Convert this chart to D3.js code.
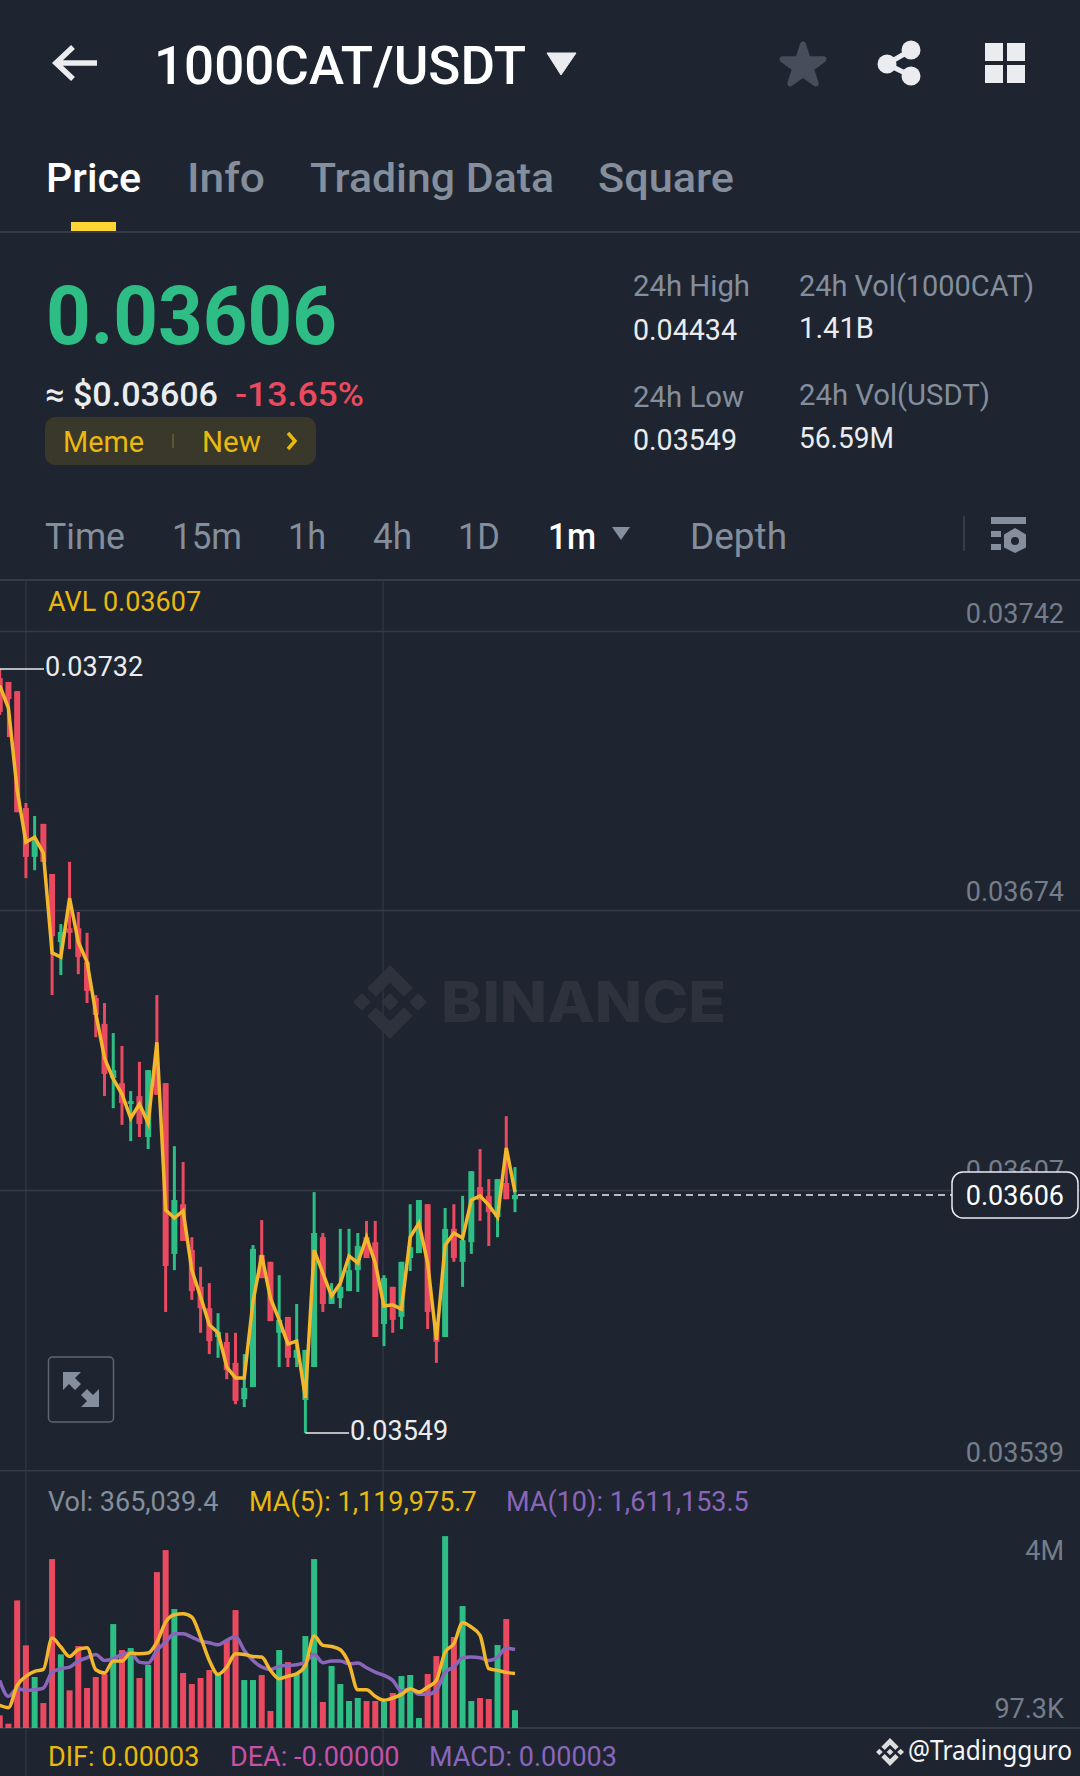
<!DOCTYPE html>
<html>
<head>
<meta charset="utf-8">
<title>1000CAT/USDT</title>
<script src="https://cdn.jsdelivr.net/npm/d3@7"></script>
<style>
  html, body { margin: 0; padding: 0; background: #1e2530; }
  svg { display: block; }
  text { font-family: Roboto, sans-serif; }
</style>
</head>
<body>
<div id="data-container"></div>
<script>
// 1-minute candles
const open = [0.037298,0.037289,0.037267,0.036987,0.036870,0.036949,0.036829,0.036666,0.036699,0.036699,0.036618,0.036532,0.036470,0.036340,0.036328,0.036278,0.036297,0.036199,0.036367,0.036328,0.035919,0.036038,0.035928,0.035840,0.035789,0.035720,0.035708,0.035658,0.035571,0.035600,0.035916,0.035900,0.035730,0.035768,0.035670,0.035569,0.035648,0.035959,0.035799,0.035813,0.035830,0.035880,0.035959,0.035947,0.035751,0.035840,0.035768,0.035909,0.035921,0.036038,0.035753,0.035720,0.035979,0.035900,0.035947,0.036079,0.036058,0.036007,0.036089,0.036050];
const high = [0.037320,0.037289,0.037267,0.036999,0.036968,0.036949,0.036829,0.036709,0.036858,0.036738,0.036688,0.036539,0.036520,0.036448,0.036417,0.036309,0.036379,0.036359,0.036539,0.036328,0.036177,0.036139,0.035959,0.035888,0.035849,0.035777,0.035730,0.035730,0.035679,0.035940,0.036000,0.035900,0.035868,0.035768,0.035799,0.035689,0.036067,0.035969,0.035849,0.035979,0.035979,0.035969,0.035998,0.035998,0.035868,0.035840,0.035900,0.036038,0.036048,0.036038,0.035753,0.036029,0.036038,0.036058,0.036117,0.036170,0.036098,0.036098,0.036249,0.036127];
const low = [0.037210,0.037157,0.036977,0.036819,0.036838,0.036858,0.036539,0.036587,0.036649,0.036589,0.036520,0.036438,0.036297,0.036268,0.036228,0.036189,0.036199,0.036170,0.036300,0.035780,0.035880,0.035950,0.035809,0.035730,0.035679,0.035670,0.035619,0.035559,0.035552,0.035600,0.035861,0.035758,0.035648,0.035648,0.035648,0.035490,0.035648,0.035780,0.035799,0.035789,0.035830,0.035828,0.035909,0.035720,0.035698,0.035730,0.035739,0.035878,0.035921,0.035739,0.035658,0.035720,0.035900,0.035840,0.035919,0.035998,0.035938,0.035959,0.036050,0.036019];
const close = [0.037217,0.037248,0.036977,0.036870,0.036910,0.036858,0.036680,0.036690,0.036688,0.036630,0.036549,0.036491,0.036350,0.036359,0.036280,0.036285,0.036230,0.036359,0.036300,0.035890,0.036048,0.035950,0.035830,0.035789,0.035710,0.035732,0.035641,0.035567,0.035598,0.035931,0.035861,0.035758,0.035761,0.035670,0.035689,0.035689,0.035969,0.035799,0.035825,0.035840,0.035880,0.035938,0.035909,0.035720,0.035861,0.035761,0.035900,0.035935,0.036048,0.035780,0.035708,0.035979,0.035909,0.035952,0.036117,0.036048,0.036019,0.036098,0.036050,0.036060];
const priceMA = [0.037281,0.037226,0.037030,0.036905,0.036917,0.036879,0.036640,0.036630,0.036771,0.036666,0.036618,0.036496,0.036388,0.036338,0.036302,0.036244,0.036278,0.036232,0.036426,0.036024,0.036005,0.036022,0.035880,0.035816,0.035749,0.035730,0.035648,0.035622,0.035622,0.035804,0.035916,0.035813,0.035761,0.035703,0.035710,0.035574,0.035928,0.035873,0.035818,0.035849,0.035914,0.035897,0.035959,0.035897,0.035794,0.035797,0.035787,0.035959,0.035993,0.035897,0.035713,0.035940,0.035969,0.035957,0.036048,0.036058,0.036036,0.036007,0.036173,0.036067];

const volume = [260,88,2618,1695,1046,512,3465,1510,772,1681,820,1046,1107,2132,1599,1640,1025,1292,3198,3649,2440,1128,902,1025,1189,1107,1804,2419,984,984,1086,349,1599,1353,1107,1886,3465,533,1271,902,554,615,554,554,533,718,1066,1087,205,1107,1476,3936,1866,2501,554,615,595,1702,2235,365];
const volMA5 = [464,417,874,1059,1161,1202,1844,1660,1468,1612,1646,1195,1127,1373,1373,1537,1523,1537,1762,2172,2322,2343,2274,1865,1386,1100,1250,1523,1509,1468,1455,1182,1011,1065,1113,1284,1885,1694,1673,1605,1318,785,785,649,567,615,690,806,738,840,977,1557,1728,2158,2069,1899,1216,1182,1141,1120];
const volMA10 = [977,649,806,772,785,820,1147,1216,1250,1373,1441,1509,1386,1421,1509,1537,1352,1332,1591,1762,1933,1933,1865,1783,1748,1708,1796,1878,1591,1386,1250,1202,1264,1284,1298,1352,1509,1339,1373,1373,1318,1332,1236,1147,1079,977,758,806,690,690,772,1147,1250,1441,1455,1441,1387,1455,1639,1611];

const priceTicks = [0.037411,0.036743,0.036072,0.035401];
const priceTickLabels = ["0.03742","0.03674","0.03607","0.03539"];
const volTicks = [4000,97.3];
const volTickLabels = ["4M","97.3K"];

const tabs = ["Price","Info","Trading Data","Square"];
const intervals = ["Time","15m","1h","4h","1D","1m","Depth"];

const GREEN = "#2ebd85", RED = "#ea4a60", YELLOW = "#f2b72c", PURPLE = "#8a66bb";
const GRAY = "#848e9c", AXIS = "#757d8a", GRID = "#363c47", WHITE = "#eaecef";

const svg = d3.select("#data-container").append("svg")
  .attr("width", 1080)
  .attr("height", 1776);

const label = (t, x, y, size, fill, opts = {}) => {
  const el = svg.append("text").attr("x", x).attr("y", y)
    .attr("font-size", size).attr("fill", fill)
    .attr("font-weight", opts.weight || 400)
    .attr("text-anchor", opts.anchor || "start")
    .text(t);
  if (opts.w) el.attr("textLength", opts.w).attr("lengthAdjust", "spacingAndGlyphs");
  if (opts.family) el.style("font-family", opts.family);
  return el;
};

// Binance diamond logo, used for the watermark and the corner tag
const logo = (cx, cy, r, fill) => {
  const g = svg.append("g").attr("transform", `translate(${cx},${cy}) scale(${r})`).attr("fill", fill);
  const d = (x, s) => `M${x - s},0L${x},${-s}L${x + s},0L${x},${s}Z`;
  g.append("path").attr("d", d(0, 0.24));
  g.append("path").attr("d", d(-0.76, 0.24));
  g.append("path").attr("d", d(0.76, 0.24));
  g.append("path").attr("d", "M0,-1L0.62,-0.38L0.38,-0.14L0,-0.52L-0.38,-0.14L-0.62,-0.38Z");
  g.append("path").attr("d", "M0,1L0.62,0.38L0.38,0.14L0,0.52L-0.38,0.14L-0.62,0.38Z");
};

// --- header ---
svg.append("path").attr("d", "M97,63H58M73,47L56,63L73,79").attr("fill", "none")
  .attr("stroke", WHITE).attr("stroke-width", 5.5);
label("1000CAT/USDT", 154, 84, 53, "#fff", {weight: 500, w: 372});
svg.append("path").attr("d", "M547,53H576L561,75Z").attr("fill", WHITE).attr("stroke", WHITE).attr("stroke-linejoin", "round");

svg.append("path").attr("transform", "translate(803,66)")
  .attr("d", d3.symbol().type(d3.symbolStar).size(520)).attr("fill", "#474d5b")
  .attr("stroke", "#474d5b").attr("stroke-width", 6).attr("stroke-linejoin", "round");
svg.append("path").attr("d", "M911,50L887,64L911,76").attr("fill", "none").attr("stroke", WHITE).attr("stroke-width", 5);
[[887,64],[911,50],[911,76]].forEach(p => svg.append("circle").attr("cx", p[0]).attr("cy", p[1]).attr("r", 9.5).attr("fill", WHITE));
[[985,43],[1007,43],[985,65],[1007,65]].forEach(p => svg.append("rect").attr("x", p[0]).attr("y", p[1]).attr("width", 18).attr("height", 18).attr("fill", WHITE));

// --- tabs ---
const tabX = [46,187,310,598], tabW = [95,78,244,136];
tabs.forEach((t, i) => label(t, tabX[i], 192, 40, i === 0 ? "#fff" : GRAY, {weight: 500, w: tabW[i]}));
svg.append("rect").attr("x", 71).attr("y", 222).attr("width", 45).attr("height", 9).attr("fill", "#fcd535");
svg.append("line").attr("x1", 0).attr("x2", 1080).attr("y1", 232).attr("y2", 232).attr("stroke", GRID).attr("stroke-width", 2);

// --- price block ---
label("0.03606", 46, 344, 82, GREEN, {weight: 700, w: 291});
label("≈ $0.03606", 45, 406, 34, WHITE, {weight: 500, w: 173});
label("-13.65%", 235, 406, 34, RED, {weight: 500, w: 129});
svg.append("rect").attr("x", 45).attr("y", 417).attr("width", 271).attr("height", 48).attr("rx", 10).attr("fill", "#3a382b");
label("Meme", 63, 452, 30, "#e9b90d", {w: 81});
svg.append("line").attr("x1", 173).attr("x2", 173).attr("y1", 434).attr("y2", 448).attr("stroke", "#5e5630").attr("stroke-width", 2);
label("New", 202, 452, 30, "#e9b90d", {w: 59});
svg.append("path").attr("d", "M288,433L295,441L288,449").attr("fill", "none").attr("stroke", "#e9b90d").attr("stroke-width", 3.5);

label("24h High", 633, 296, 30, GRAY, {w: 117});
label("0.04434", 633, 340, 29, WHITE, {w: 104});
label("24h Vol(1000CAT)", 799, 296, 30, GRAY, {w: 235});
label("1.41B", 799, 338, 29, WHITE, {w: 75});
label("24h Low", 633, 407, 30, GRAY, {w: 111});
label("0.03549", 633, 450, 29, WHITE, {w: 104});
label("24h Vol(USDT)", 799, 405, 30, GRAY, {w: 191});
label("56.59M", 799, 448, 29, WHITE, {w: 95});

// --- interval row ---
const intX = [45,172,288,373,458,548,690], intW = [80,70,38,39,42,48,97];
intervals.forEach((t, i) => label(t, intX[i], 549, 36, i === 5 ? "#fff" : GRAY, {weight: i === 5 ? 500 : 400, w: intW[i]}));
svg.append("path").attr("d", "M612,527H630L621,540Z").attr("fill", GRAY);
svg.append("line").attr("x1", 964).attr("x2", 964).attr("y1", 516).attr("y2", 551).attr("stroke", GRID).attr("stroke-width", 2);
svg.append("g").attr("fill", GRAY).call(g => {
  g.append("rect").attr("x", 991).attr("y", 517).attr("width", 35).attr("height", 7);
  g.append("rect").attr("x", 991).attr("y", 531).attr("width", 10).attr("height", 6);
  g.append("rect").attr("x", 991).attr("y", 544).attr("width", 10).attr("height", 6);
  g.append("path").attr("d", "M1015,528L1026,534.5V547.5L1015,553L1004,547.5V534.5Z");
});
svg.append("circle").attr("cx", 1015).attr("cy", 541).attr("r", 4).attr("fill", "#1e2530");

// --- scales ---
const x = d3.scaleLinear().domain([0, open.length - 1]).range([-0.3, 515]);
const y = d3.scaleLinear().domain([0.03549, 0.03732]).range([1433, 669]);
const yVol = d3.scaleLinear().domain([0, 4000]).range([1728, 1533]);

// --- grid ---
svg.append("line").attr("x1", 0).attr("x2", 1080).attr("y1", 580).attr("y2", 580).attr("stroke", GRID).attr("stroke-width", 2);
[26, 383].forEach(gx => svg.append("line").attr("x1", gx).attr("x2", gx).attr("y1", 581).attr("y2", 1776).attr("stroke", GRID));
svg.append("g").attr("transform", "translate(1080,0)")
  .call(d3.axisLeft(y).tickValues(priceTicks).tickSize(1080).tickFormat(""))
  .call(g => g.select(".domain").remove())
  .call(g => g.selectAll("text").remove())
  .call(g => g.selectAll("line").attr("stroke", GRID).attr("stroke-width", 1.5));
svg.append("line").attr("x1", 0).attr("x2", 1080).attr("y1", 1728).attr("y2", 1728).attr("stroke", GRID).attr("stroke-width", 2);

// watermark
logo(390, 1002, 37, "#2d323d");
label("BINANCE", 441, 1022, 57, "#2d323d", {weight: 800, family: "Inter", w: 285});

// --- candles ---
const candles = svg.append("g");
candles.selectAll(".wick").data(open).join("rect")
  .attr("class", "wick")
  .attr("x", (d, i) => x(i) - 1.5)
  .attr("width", 3)
  .attr("y", (d, i) => y(high[i]))
  .attr("height", (d, i) => y(low[i]) - y(high[i]))
  .attr("fill", (d, i) => close[i] >= open[i] ? GREEN : RED);
candles.selectAll(".body").data(open).join("rect")
  .attr("class", "body")
  .attr("x", (d, i) => x(i) - 3)
  .attr("width", 6)
  .attr("y", (d, i) => y(Math.max(open[i], close[i])))
  .attr("height", (d, i) => Math.abs(y(open[i]) - y(close[i])))
  .attr("fill", (d, i) => close[i] >= open[i] ? GREEN : RED);

svg.append("path").datum(priceMA)
  .attr("fill", "none").attr("stroke", YELLOW).attr("stroke-width", 3.5)
  .attr("d", d3.line().x((d, i) => x(i)).y(d => y(d)));

// high / low markers
const lo = d3.min(low), hi = d3.max(high);
svg.append("path").attr("d", `M0,${y(hi)}H44`).attr("stroke", WHITE).attr("stroke-width", 1.5).attr("fill", "none");
label("0.03732", 45, y(hi) + 7, 27, WHITE);
svg.append("path").attr("d", `M${x(low.indexOf(lo))},${y(lo)}H349`).attr("stroke", WHITE).attr("stroke-width", 1.5).attr("fill", "none");
label("0.03549", 350, y(lo) + 7, 27, WHITE);

label("AVL 0.03607", 48, 611, 27, "#e9b90d");

// price axis labels sit above their grid lines
svg.append("g").attr("transform", "translate(1064,0)")
  .call(d3.axisLeft(y).tickValues(priceTicks).tickSize(0).tickPadding(0).tickFormat((d, i) => priceTickLabels[i]))
  .call(g => g.select(".domain").remove())
  .call(g => g.selectAll("text").attr("font-family", null).attr("font-size", 27).attr("fill", AXIS)
    .attr("dy", (d, i) => i === 2 ? -11 : -9));

// last price
const last = close[close.length - 1];
svg.append("line").attr("x1", x(close.length - 1) + 3).attr("x2", 952).attr("y1", y(last)).attr("y2", y(last))
  .attr("stroke", WHITE).attr("stroke-width", 1.5).attr("stroke-dasharray", "7,5");
svg.append("rect").attr("x", 952).attr("y", 1172).attr("width", 126).attr("height", 46).attr("rx", 11)
  .attr("fill", "#1e2530").attr("stroke", WHITE).attr("stroke-width", 1.5);
label("0.03606", 1064, 1205, 27, "#fff", {anchor: "end"});

// expand button
svg.append("rect").attr("x", 48.5).attr("y", 1357).attr("width", 65).attr("height", 65).attr("rx", 4)
  .attr("fill", "none").attr("stroke", "#5e6673").attr("stroke-width", 1.5);
svg.append("path").attr("d", "M63,1372H81L75,1378L81,1384L75,1390L69,1384L63,1390ZM99,1407H81L87,1401L81,1395L87,1389L93,1395L99,1389Z").attr("fill", GRAY);

// --- volume ---
label("Vol: 365,039.4", 48, 1511, 27, GRAY);
label("MA(5): 1,119,975.7", 249, 1511, 27, "#e9b90d");
label("MA(10): 1,611,153.5", 506, 1511, 27, PURPLE);

svg.selectAll(".vol").data(volume).join("rect")
  .attr("class", "vol")
  .attr("x", (d, i) => x(i) - 3)
  .attr("width", 6)
  .attr("y", d => yVol(d))
  .attr("height", d => yVol(0) - yVol(d))
  .attr("fill", (d, i) => close[i] >= open[i] ? GREEN : RED);

const volLine = d3.line().x((d, i) => x(i)).y(d => yVol(d)).curve(d3.curveMonotoneX);
svg.append("path").datum(volMA10).attr("fill", "none").attr("stroke", PURPLE).attr("stroke-width", 3.5).attr("d", volLine);
svg.append("path").datum(volMA5).attr("fill", "none").attr("stroke", YELLOW).attr("stroke-width", 3.5).attr("d", volLine);

svg.append("g").attr("transform", "translate(1064,0)")
  .call(d3.axisLeft(yVol).tickValues(volTicks).tickSize(0).tickPadding(0).tickFormat((d, i) => volTickLabels[i]))
  .call(g => g.select(".domain").remove())
  .call(g => g.selectAll("text").attr("font-family", null).attr("font-size", 27).attr("fill", AXIS)
    .attr("dy", (d, i) => i === 0 ? 26 : -6));

// --- macd legend ---
label("DIF: 0.00003", 48, 1766, 27, "#e9b90d");
label("DEA: -0.00000", 230, 1766, 27, "#c551a8");
label("MACD: 0.00003", 429, 1766, 27, PURPLE);

logo(890, 1752, 14, "#dddddd");
label("@Tradingguro", 908, 1760, 27, "#f5f5f5", {family: "Noto Sans", w: 164});
</script>
</body>
</html>
